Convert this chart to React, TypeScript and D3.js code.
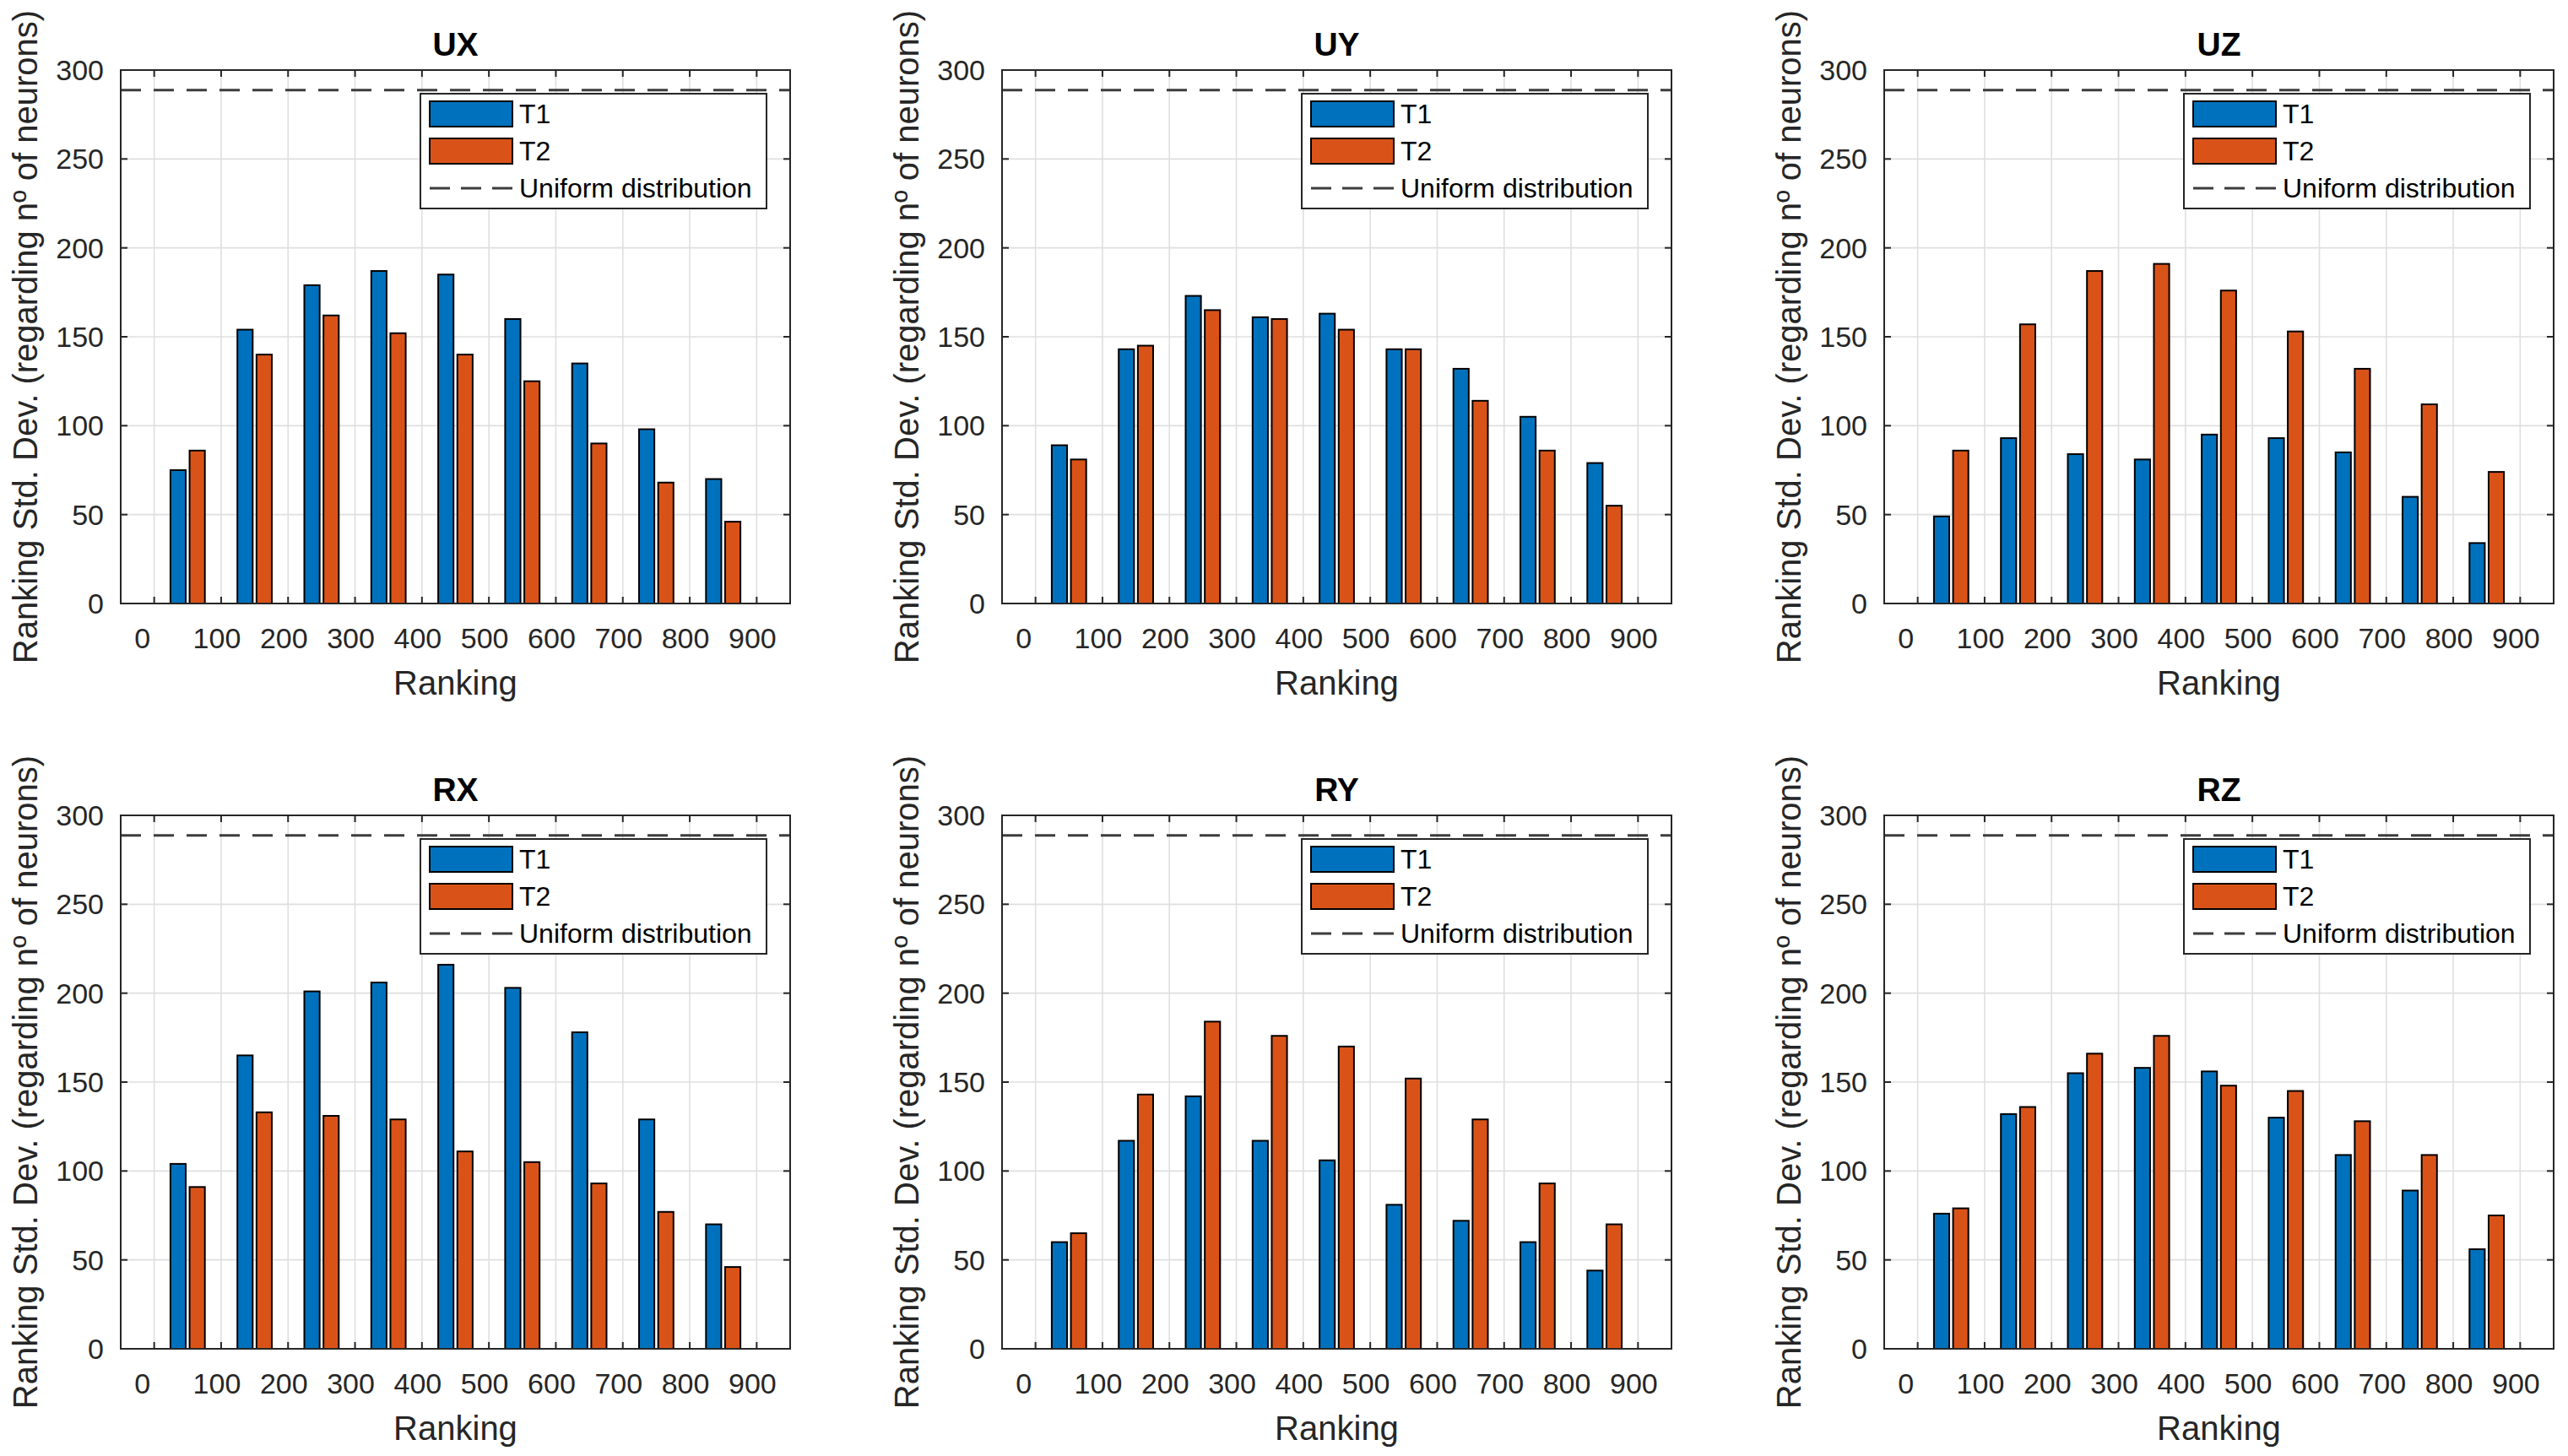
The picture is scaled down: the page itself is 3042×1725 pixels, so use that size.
import React from "react";
import * as d3 from "d3";

// ---- data ----
const rankBins = [50, 150, 250, 350, 450, 550, 650, 750, 850];
const xTicks = [0, 100, 200, 300, 400, 500, 600, 700, 800, 900];
const yTicks = [0, 50, 100, 150, 200, 250, 300];
const seriesNames = ["T1", "T2"];
const panelTitles = ["UX", "UY", "UZ", "RX", "RY", "RZ"];

const uxT1 = [75, 154, 179, 187, 185, 160, 135, 98, 70];
const uxT2 = [86, 140, 162, 152, 140, 125, 90, 68, 46];
const uyT1 = [89, 143, 173, 161, 163, 143, 132, 105, 79];
const uyT2 = [81, 145, 165, 160, 154, 143, 114, 86, 55];
const uzT1 = [49, 93, 84, 81, 95, 93, 85, 60, 34];
const uzT2 = [86, 157, 187, 191, 176, 153, 132, 112, 74];
const rxT1 = [104, 165, 201, 206, 216, 203, 178, 129, 70];
const rxT2 = [91, 133, 131, 129, 111, 105, 93, 77, 46];
const ryT1 = [60, 117, 142, 117, 106, 81, 72, 60, 44];
const ryT2 = [65, 143, 184, 176, 170, 152, 129, 93, 70];
const rzT1 = [76, 132, 155, 158, 156, 130, 109, 89, 56];
const rzT2 = [79, 136, 166, 176, 148, 145, 128, 109, 75];

const uniformStd = 288.7;

const panelData = [
  [uxT1, uxT2],
  [uyT1, uyT2],
  [uzT1, uzT2],
  [rxT1, rxT2],
  [ryT1, ryT2],
  [rzT1, rzT2],
];

// ---- style / layout ----
const FIG_W = 3042;
const FIG_H = 1725;
const colLeft = [143, 1187, 2232];
const rowTop = [83, 966];
const AX_W = 793;
const AX_H = 632;
const colors = ["#0072BD", "#D95319"];
const FONT = "'Liberation Sans', Arial, Helvetica, sans-serif";
const TXT = "#262626";
const TICK_FS = 34;
const LABEL_FS = 40;
const TITLE_FS = 39;
const LEGEND_FS = 32;

function Panel({ left, top, title, series }: { left: number; top: number; title: string; series: number[][] }) {
  const x = d3.scaleLinear().domain([-50, 950]).range([0, AX_W]);
  const y = d3.scaleLinear().domain([0, 300]).range([AX_H, 0]);
  const groupWidth = 100 * Math.min(0.8, 2 / 3.5);
  const barW = x(0.8 * groupWidth / 2) - x(0);
  const tickLen = 8;

  const legW = 410;
  const legH = 136;
  const legX = AX_W - 28 - legW;
  const legY = 28;

  return (
    <g transform={`translate(${left},${top})`}>
      <rect x={0} y={0} width={AX_W} height={AX_H} fill="#ffffff" />
      {/* grid */}
      {xTicks.map((t) => (
        <line key={"gx" + t} x1={x(t)} x2={x(t)} y1={0} y2={AX_H} stroke="#dfdfdf" strokeWidth={1.6} />
      ))}
      {yTicks.map((t) => (
        <line key={"gy" + t} x1={0} x2={AX_W} y1={y(t)} y2={y(t)} stroke="#dfdfdf" strokeWidth={1.6} />
      ))}
      {/* bars */}
      {series.map((vals, si) =>
        vals.map((v, i) => {
          const c = rankBins[i] + (si - 0.5) * groupWidth / 2;
          return (
            <rect
              key={`b${si}-${i}`}
              x={x(c) - barW / 2}
              y={y(v)}
              width={barW}
              height={y(0) - y(v)}
              fill={colors[si]}
              stroke="#000"
              strokeWidth={2}
            />
          );
        })
      )}
      {/* uniform line */}
      <line
        x1={0}
        x2={AX_W}
        y1={y(uniformStd)}
        y2={y(uniformStd)}
        stroke="#3c3c3c"
        strokeWidth={3}
        strokeDasharray="24 15"
      />
      {/* axes box */}
      <rect x={0} y={0} width={AX_W} height={AX_H} fill="none" stroke={TXT} strokeWidth={2} />
      {/* ticks */}
      {xTicks.map((t) => (
        <g key={"tx" + t}>
          <line x1={x(t)} x2={x(t)} y1={AX_H} y2={AX_H - tickLen} stroke={TXT} strokeWidth={2} />
          <line x1={x(t)} x2={x(t)} y1={0} y2={tickLen} stroke={TXT} strokeWidth={2} />
          <text
            x={x(t) + (t === 0 ? -14 : -5)}
            y={AX_H + 53}
            textAnchor="middle"
            fontSize={TICK_FS}
            fill={TXT}
            fontFamily={FONT}
          >
            {t}
          </text>
        </g>
      ))}
      {yTicks.map((t) => (
        <g key={"ty" + t}>
          <line x1={0} x2={tickLen} y1={y(t)} y2={y(t)} stroke={TXT} strokeWidth={2} />
          <line x1={AX_W} x2={AX_W - tickLen} y1={y(t)} y2={y(t)} stroke={TXT} strokeWidth={2} />
          <text
            x={-20}
            y={y(t)}
            dy="0.35em"
            textAnchor="end"
            fontSize={TICK_FS}
            fill={TXT}
            fontFamily={FONT}
          >
            {t}
          </text>
        </g>
      ))}
      {/* title */}
      <text x={AX_W / 2} y={-17} textAnchor="middle" fontSize={TITLE_FS} fontWeight="bold" fill="#000" fontFamily={FONT}>
        {title}
      </text>
      {/* x label */}
      <text x={AX_W / 2} y={AX_H + 108} textAnchor="middle" fontSize={LABEL_FS} fill={TXT} fontFamily={FONT}>
        Ranking
      </text>
      {/* y label */}
      <text
        transform={`translate(${-99},${AX_H / 2}) rotate(-90)`}
        textAnchor="middle"
        fontSize={LABEL_FS}
        fill={TXT}
        fontFamily={FONT}
      >
        Ranking Std. Dev. (regarding nº of neurons)
      </text>
      {/* legend */}
      <g transform={`translate(${legX},${legY})`}>
        <rect x={0} y={0} width={legW} height={legH} fill="#ffffff" stroke={TXT} strokeWidth={2} />
        {seriesNames.map((n, si) => (
          <g key={n} transform={`translate(0,${24 + si * 44})`}>
            <rect x={11} y={-15} width={98} height={30} fill={colors[si]} stroke="#000" strokeWidth={2} />
            <text x={117} y={0} dy="0.35em" fontSize={LEGEND_FS} fill="#000" fontFamily={FONT}>
              {n}
            </text>
          </g>
        ))}
        <g transform={`translate(0,${24 + 2 * 44})`}>
          <line x1={11} x2={109} y1={0} y2={0} stroke="#3c3c3c" strokeWidth={3} strokeDasharray="24 13" />
          <text x={117} y={0} dy="0.35em" fontSize={LEGEND_FS} fill="#000" fontFamily={FONT}>
            Uniform distribution
          </text>
        </g>
      </g>
    </g>
  );
}

export default function App() {
  return (
    <svg
      width={FIG_W}
      height={FIG_H}
      style={{ position: "absolute", left: 0, top: 0, display: "block", background: "#ffffff" }}
    >
      <rect x={0} y={0} width={FIG_W} height={FIG_H} fill="#ffffff" />
      {panelTitles.map((t, i) => (
        <Panel
          key={t}
          left={colLeft[i % 3]}
          top={rowTop[Math.floor(i / 3)]}
          title={t}
          series={panelData[i]}
        />
      ))}
    </svg>
  );
}
